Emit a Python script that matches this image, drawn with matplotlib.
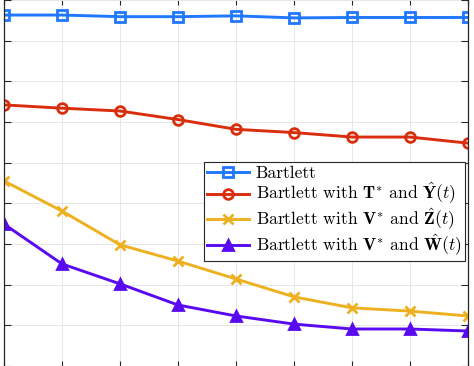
import matplotlib
matplotlib.use("Agg")
import matplotlib.pyplot as plt
import numpy as np

plt.rcParams['font.family'] = 'serif'
plt.rcParams['font.serif'] = ['cmr10']
plt.rcParams['mathtext.fontset'] = 'cm'
plt.rcParams['axes.unicode_minus'] = False

# data (y axis has no labels, arbitrary units 0..9)
steps = np.arange(9)
bartlett = [8.63, 8.63, 8.59, 8.59, 8.61, 8.56, 8.57, 8.57, 8.57]
bartlett_T_Y = [6.42, 6.34, 6.27, 6.06, 5.82, 5.74, 5.63, 5.63, 5.48]
bartlett_V_Z = [4.55, 3.81, 2.98, 2.58, 2.14, 1.70, 1.43, 1.35, 1.23]
bartlett_V_W = [3.49, 2.51, 2.02, 1.50, 1.23, 1.03, 0.91, 0.91, 0.86]

labels = [
    'Bartlett',
    r'Bartlett with $\mathbf{T}^{*}$ and $\hat{\mathbf{Y}}(t)$',
    r'Bartlett with $\mathbf{V}^{*}$ and $\hat{\mathbf{Z}}(t)$',
    r'Bartlett with $\mathbf{V}^{*}$ and $\hat{\mathbf{W}}(t)$',
]
colors = ['#1f78ff', '#d92d0c', '#edb120', '#5a0af0']
markers = ['s', 'o', 'x', '^']
series = [bartlett, bartlett_T_Y, bartlett_V_Z, bartlett_V_W]

fig = plt.figure(figsize=(4.74, 3.66), dpi=100)
px = 1 / 474
py = 1 / 366
ax = fig.add_axes([4 * px, -2 * py, 464 * px, 370 * py])

for ys, lab, c, m in zip(series, labels, colors, markers):
    ax.plot(steps, ys, color=c, marker=m, lw=2.1, ms=7, mew=2,
            mfc='none' if m in 'so' else c, label=lab)

ax.set_xlim(0, 8)
ax.set_ylim(-2 / 40.67, 9 + 2 / 40.67)
ax.set_xticks(steps)
ax.set_yticks(np.arange(0, 10))
ax.tick_params(direction='in', length=5, width=0.8, top=True, right=True,
               labelbottom=False, labelleft=False, color='#262626')
ax.grid(True, color='#e6e6e6', lw=0.7)
for s in ax.spines.values():
    s.set_color('#262626')
    s.set_linewidth(0.9)

leg = ax.legend(loc='upper right', bbox_to_anchor=(461 / 464, 206 / 370),
                fontsize=12.6, handlelength=2.4, handletextpad=0.35,
                labelspacing=0.0, borderpad=0.2, borderaxespad=0,
                fancybox=False, framealpha=1, edgecolor='#262626')
leg.get_frame().set_linewidth(0.8)

fig.savefig('out.png', dpi=100)
